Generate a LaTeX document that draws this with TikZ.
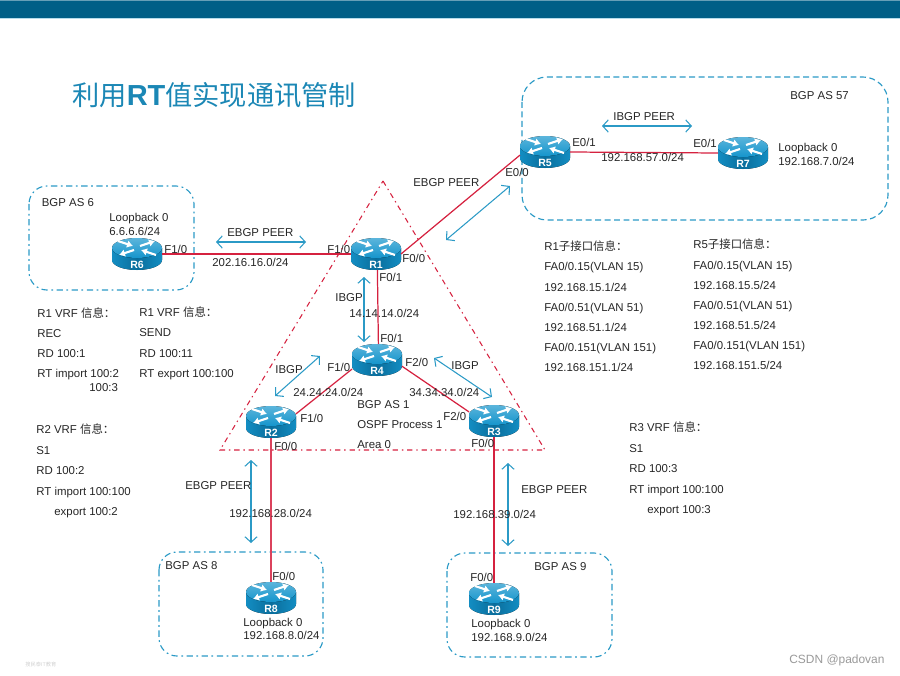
\documentclass[tikz,border=0pt]{standalone}
\usepackage{fontspec}
\setmainfont{Liberation Sans}
\newfontfamily\cjk{Noto Sans CJK SC}
\usetikzlibrary{arrows.meta}
\definecolor{barblue}{HTML}{005F87}
\definecolor{linkred}{HTML}{D5213F}
\definecolor{peerblue}{HTML}{2B9AC6}
\definecolor{titleblue}{HTML}{1B87B5}
\definecolor{routertop}{HTML}{1595CC}
\definecolor{routerside}{HTML}{0A6E9C}
\tikzset{
  lbl/.style={anchor=west,inner sep=0pt,yshift=-1pt,text height=4.7pt,text depth=1.3pt,text=black!85,font=\fontsize{6.5}{8}\selectfont},
  router/.style={minimum width=1cm,minimum height=0.64cm,inner sep=0pt,outer sep=0pt},
  rname/.style={inner sep=0pt,text=white,font=\bfseries\fontsize{6}{8}\selectfont},
  asbox/.style={draw=peerblue,line width=0.65pt,rounded corners=0.36cm,dash pattern=on 3.6pt off 2pt on 1pt off 2pt},
  link/.style={draw=linkred,line width=0.7pt},
  peer/.style={draw=peerblue,line width=0.6pt,{Straight Barb[length=3.2pt,width=7pt]}-{Straight Barb[length=3.2pt,width=7pt]}},
  rarrow/.style={white,line width=1.2pt,-{Latex[length=3.4pt,width=4.4pt]}}
}
\begin{document}
\begin{tikzpicture}[x=0.02cm,y=-0.02cm]
\useasboundingbox (0,0) rectangle (900,676);
\fill[barblue] (0,0) rectangle (900,18);
\fill[barblue!60] (0,0) rectangle (900,1);
\fill[peerblue!35] (0,18) rectangle (900,19);

\node[anchor=west,inner sep=0pt,text=titleblue,font=\fontsize{15.5}{18}\selectfont] (title) at (72,95)
  {{\cjk 利用}\textbf{\fontsize{16.5}{18}\selectfont RT}{\cjk 值实现通讯管制}};

% AS boxes
\draw[asbox] (29,186) rectangle (194,290);
\draw[asbox,dash pattern=on 3.4pt off 2pt,rounded corners=0.5cm] (522,77) rectangle (888,220);
\draw[asbox] (159,552) rectangle (323,656);
\draw[asbox] (447,553) rectangle (612,657);

% AS 1 triangle
\draw[linkred,line width=0.6pt,dash pattern=on 3pt off 2.2pt on 0.8pt off 2.2pt] (383,181) -- (545,450) -- (220,450) -- cycle;

% routers
\foreach \name/\x/\y in {R1/376/254,R2/271/422,R3/494/421,R4/377/360,R5/545/152,R6/137/254,R7/743/153,R8/271/598,R9/494/599}
{
  \node[router] (\name) at (\x,\y) {};
  \begin{scope}[shift={(\x,\y)}]
    \fill[left color=routertop!80!routerside,right color=routertop!80!routerside,middle color=routerside]
      (-25,-6) -- (-25,6) arc[start angle=180,end angle=0,x radius=25,y radius=10] -- (25,-6) -- cycle;
    \fill[top color=routertop!70!white,bottom color=routertop] (0,-6) ellipse[x radius=25,y radius=10];
    \draw[rarrow] (3,-8) -- (18,-13);
    \draw[rarrow] (-3,-4) -- (-18,1);
    \draw[rarrow] (-19,-13) -- (-4,-8);
    \draw[rarrow] (19,1) -- (4,-4);
  \end{scope}
  \node[rname] (\name name) at (\x,\y+10.5) {\name};
}

% links
\draw[link] (R6.east) -- (R1.west);
\draw[link] (R1.east) -- (R5.187);
\draw[link] (R1.-85) -- (R4.85);
\draw[link] (R5.east) -- (R7.west);
\draw[link] (R4.200) -- (R2.18);
\draw[link] (R4.-14) -- (R3.160);
\draw[link,linkred!85!white] (R2.south) -- (R8.north);
\draw[link] (R3.south) -- (R9.north);

% peerings
\coordinate (p1a) at (216,242); \coordinate (p1b) at (306,242);
\coordinate (p2a) at (602,126); \coordinate (p2b) at (692,126);
\coordinate (p3a) at (446,240); \coordinate (p3b) at (510,186);
\coordinate (p4a) at (364,277); \coordinate (p4b) at (364,342);
\coordinate (p5a) at (320,356); \coordinate (p5b) at (275,396);
\coordinate (p6a) at (434,358); \coordinate (p6b) at (492,397);
\coordinate (p7a) at (251,460); \coordinate (p7b) at (251,543);
\coordinate (p8a) at (508,463); \coordinate (p8b) at (508,546);
\draw[peer] (p1a) -- (p1b);
\draw[peer] (p2a) -- (p2b);
\draw[peer] (p3a) -- (p3b);
\draw[peer] (p4a) -- (p4b);
\draw[peer] (p5a) -- (p5b);
\draw[peer] (p6a) -- (p6b);
\draw[peer] (p7a) -- (p7b);
\draw[peer] (p8a) -- (p8b);

% AS 6
\node[lbl] (as6) at (41.5,202) {BGP AS 6};
\node[lbl] (lo6) at (109,217) {Loopback 0};
\node[lbl] (ip6) at (109,231) {6.6.6.6/24};
\node[lbl] (r6f) at (164,249) {F1/0};
\node[lbl] (e16) at (227,232) {EBGP PEER};
\node[lbl] (n16) at (212,262) {202.16.16.0/24};

% AS 1
\node[lbl] (r1f10) at (327,249) {F1/0};
\node[lbl] (r1f00) at (402,258) {F0/0};
\node[lbl] (r1f01) at (379,277) {F0/1};
\node[lbl] (i14) at (335,297) {IBGP};
\node[lbl] (n14) at (349,313) {14.14.14.0/24};
\node[lbl] (r4f01) at (380,338) {F0/1};
\node[lbl] (r4f10) at (327,367) {F1/0};
\node[lbl] (r4f20) at (405,362) {F2/0};
\node[lbl] (i24) at (275,369) {IBGP};
\node[lbl] (i34) at (451,365) {IBGP};
\node[lbl] (n24) at (293,392) {24.24.24.0/24};
\node[lbl] (n34) at (409,392) {34.34.34.0/24};
\node[lbl] (as1) at (357,404) {BGP AS 1};
\node[lbl] (ospf) at (357,424) {OSPF Process 1};
\node[lbl] (area) at (357,444) {Area 0};
\node[lbl] (r2f10) at (300,418) {F1/0};
\node[lbl] (r3f20) at (443,416) {F2/0};
\node[lbl] (r2f00) at (274,446) {F0/0};
\node[lbl] (r3f00) at (471,443) {F0/0};

% AS 57
\node[lbl] (e15) at (413,182) {EBGP PEER};
\node[lbl] (r5e00) at (505,172) {E0/0};
\node[lbl] (r5e01) at (572,142) {E0/1};
\node[lbl] (r7e01) at (693,143) {E0/1};
\node[lbl] (i57) at (613,116) {IBGP PEER};
\node[lbl] (n57) at (601,157) {192.168.57.0/24};
\node[lbl] (as57) at (790,95) {BGP AS 57};
\node[lbl] (lo7) at (778,147) {Loopback 0};
\node[lbl] (ip7) at (778,161) {192.168.7.0/24};

% sub interfaces
\node[lbl] (s10) at (544,246) {R1{\cjk 子接口信息：}};
\node[lbl] (s11) at (544,266) {FA0/0.15(VLAN 15)};
\node[lbl] (s12) at (544,287) {192.168.15.1/24};
\node[lbl] (s13) at (544,307) {FA0/0.51(VLAN 51)};
\node[lbl] (s14) at (544,327) {192.168.51.1/24};
\node[lbl] (s15) at (544,347) {FA0/0.151(VLAN 151)};
\node[lbl] (s16) at (544,367) {192.168.151.1/24};
\node[lbl] (s50) at (693,244) {R5{\cjk 子接口信息：}};
\node[lbl] (s51) at (693,265) {FA0/0.15(VLAN 15)};
\node[lbl] (s52) at (693,285) {192.168.15.5/24};
\node[lbl] (s53) at (693,305) {FA0/0.51(VLAN 51)};
\node[lbl] (s54) at (693,325) {192.168.51.5/24};
\node[lbl] (s55) at (693,345) {FA0/0.151(VLAN 151)};
\node[lbl] (s56) at (693,365) {192.168.151.5/24};

% VRF
\node[lbl] (a0) at (37,313) {R1 VRF {\cjk 信息：}};
\node[lbl] (a1) at (37,333) {REC};
\node[lbl] (a2) at (37,353) {RD 100:1};
\node[lbl] (a3) at (37,373) {RT import 100:2};
\node[lbl] (a4) at (89,387) {100:3};
\node[lbl] (b0) at (139,312) {R1 VRF {\cjk 信息：}};
\node[lbl] (b1) at (139,332) {SEND};
\node[lbl] (b2) at (139,353) {RD 100:11};
\node[lbl] (b3) at (139,373) {RT export 100:100};
\node[lbl] (c0) at (36,429) {R2 VRF {\cjk 信息：}};
\node[lbl] (c1) at (36,450) {S1};
\node[lbl] (c2) at (36,470) {RD 100:2};
\node[lbl] (c3) at (36,491) {RT import 100:100};
\node[lbl] (c4) at (54,511) {export 100:2};
\node[lbl] (d0) at (629,427) {R3 VRF {\cjk 信息：}};
\node[lbl] (d1) at (629,448) {S1};
\node[lbl] (d2) at (629,468) {RD 100:3};
\node[lbl] (d3) at (629,489) {RT import 100:100};
\node[lbl] (d4) at (647,509) {export 100:3};

% AS 8, AS 9
\node[lbl] (e28) at (185,485) {EBGP PEER};
\node[lbl] (n28) at (229,513) {192.168.28.0/24};
\node[lbl] (as8) at (165,565) {BGP AS 8};
\node[lbl] (r8f) at (272,576) {F0/0};
\node[lbl] (lo8) at (243,622) {Loopback 0};
\node[lbl] (ip8) at (243,635) {192.168.8.0/24};
\node[lbl] (e39) at (521,489) {EBGP PEER};
\node[lbl] (n39) at (453,514) {192.168.39.0/24};
\node[lbl] (as9) at (534,566) {BGP AS 9};
\node[lbl] (r9f) at (470,577) {F0/0};
\node[lbl] (lo9) at (471,623) {Loopback 0};
\node[lbl] (ip9) at (471,637) {192.168.9.0/24};

\node[anchor=west,inner sep=0pt,text=black!18,font=\fontsize{3}{4}\selectfont] (mark) at (25,664) {{\cjk 搜民泰}IT{\cjk 教育}};
\node[anchor=west,inner sep=0pt,text=black!40,font=\fontsize{6.8}{9}\selectfont] (csdn) at (789,660) {CSDN @padovan};
\end{tikzpicture}
\end{document}
